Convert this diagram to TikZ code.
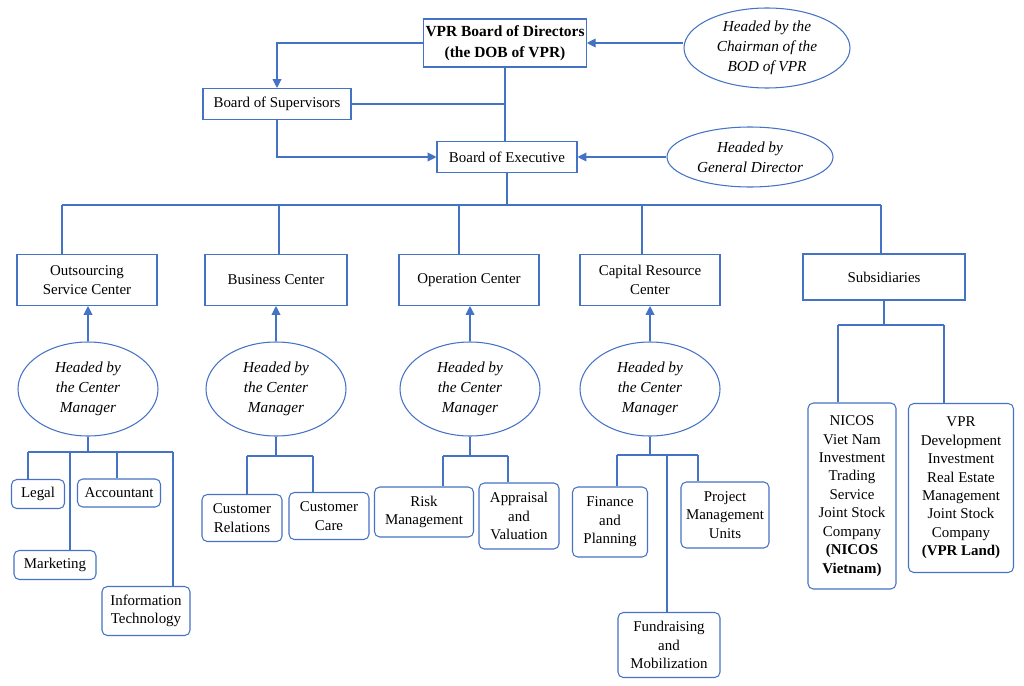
\documentclass[tikz,border=0pt]{standalone}
\usepackage{fontspec}
\setmainfont{Liberation Serif}
\usetikzlibrary{shapes.geometric,arrows.meta}
\definecolor{ln}{RGB}{68,114,196}
\begin{document}
\begin{tikzpicture}[x=0.02cm,y=-0.02cm,
  every node/.style={font=\fontsize{8.5}{10.5}\selectfont,align=center,inner sep=1pt},
  sz/.style 2 args={minimum width=#1*0.02cm,minimum height=#2*0.02cm},
  box/.style={draw=ln,semithick},
  rbox/.style={draw=ln,semithick,rounded corners=3pt},
  ell/.style={draw=ln,semithick,ellipse,inner sep=0pt,font=\fontsize{8.7}{11.3}\selectfont\itshape},
  ln/.style={draw=ln,semithick},
  arr/.style={ln,-{Triangle[length=5pt,width=5pt]}}]
\useasboundingbox (0,0) rectangle (1024,686);
% top
\node[box,sz={156}{48},font=\fontsize{8.8}{12}\selectfont\bfseries] (bod) at (505,43) {VPR Board of Directors\\(the DOB of VPR)};
\node[ell,sz={166}{80}] (e1) at (767,48) {Headed by the\\Chairman of the\\BOD of VPR};
\node[box,sz={148}{31}] (sup) at (277,104) {Board of Supervisors};
\node[box,sz={140}{31}] (exe) at (507,157) {Board of Executive};
\node[ell,sz={166}{60}] (e2) at (750,157) {Headed by\\General Director};
\draw[arr] (e1.west |- bod.east) -- (bod.east);
\draw[arr] (e2.west) -- (exe.east);
\draw[arr] (bod.west) -| (sup.north);
\draw[ln] (bod.south) -- (exe.north -| bod.south);
\draw[ln] (sup.east) -- (bod.south |- sup.east);
\draw[arr] (sup.south) |- (exe.west);
% centers
\node[box,sz={140}{51}] (c1) at (87,280) {Outsourcing\\Service Center};
\node[box,sz={142}{51}] (c2) at (276,280) {Business Center};
\node[box,sz={140}{51}] (c3) at (469,280) {Operation Center};
\node[box,sz={140}{51}] (c4) at (650,280) {Capital Resource\\Center};
\node[box,sz={162}{46}] (c5) at (884,277) {Subsidiaries};
\coordinate (bus) at (507,205);
\draw[ln] (exe.south) -- (bus);
\draw[ln] (62,205) -- (881,205);
\draw[ln] (62,205) -- (c1.north -| 62,0);
\draw[ln] (279,205) -- (c2.north -| 279,0);
\draw[ln] (459,205) -- (c3.north -| 459,0);
\draw[ln] (642,205) -- (c4.north -| 642,0);
\draw[ln] (881,205) -- (c5.north -| 881,0);
% ellipses
\foreach \i/\x in {1/88,2/276,3/470,4/650}{
  \node[ell,sz={140}{94}] (h\i) at (\x,389) {Headed by\\the Center\\Manager};
  \draw[arr] (h\i.north) -- (c\i.south -| h\i.north);
}
% outsourcing units
\node[rbox,sz={53}{29}] (legal) at (38,494) {Legal};
\node[rbox,sz={82}{29}] (mkt) at (55,565) {Marketing};
\node[rbox,sz={83}{28}] (acc) at (119,493) {Accountant};
\node[rbox,sz={88}{49}] (it) at (146,611) {Information\\Technology};
\draw[ln] (h1.south) -- (88,452);
\draw[ln] (28,452) -- (173,452);
\draw[ln] (28,452) -- (legal.north -| 28,0);
\draw[ln] (70,452) -- (mkt.north -| 70,0);
\draw[ln] (117,452) -- (acc.north -| 117,0);
\draw[ln] (173,452) -- (it.north -| 173,0);
% business units
\node[rbox,sz={80}{47}] (cr) at (242,518) {Customer\\Relations};
\node[rbox,sz={80}{47}] (cc) at (329,516) {Customer\\Care};
\draw[ln] (h2.south) -- (276,456);
\draw[ln] (247,456) -- (313,456);
\draw[ln] (247,456) -- (cr.north -| 247,0);
\draw[ln] (313,456) -- (cc.north -| 313,0);
% operation units
\node[rbox,sz={99}{50}] (risk) at (424,512) {Risk\\Management};
\node[rbox,sz={80}{66}] (app) at (519,516) {Appraisal\\and\\Valuation};
\draw[ln] (h3.south) -- (470,456);
\draw[ln] (443,456) -- (508,456);
\draw[ln] (443,456) -- (risk.north -| 443,0);
\draw[ln] (508,456) -- (app.north -| 508,0);
% capital units
\node[rbox,sz={75}{70}] (fin) at (610,522) {Finance\\and\\Planning};
\node[rbox,sz={88}{66}] (pmu) at (725,515) {Project\\Management\\Units};
\node[rbox,sz={102}{65}] (fund) at (669,645) {Fundraising\\and\\Mobilization};
\draw[ln] (h4.south) -- (650,455);
\draw[ln] (617,455) -- (698,455);
\draw[ln] (617,455) -- (fin.north -| 617,0);
\draw[ln] (698,455) -- (pmu.north -| 698,0);
\draw[ln] (667,455) -- (fund.north -| 667,0);
% subsidiaries
\node[rbox,sz={88}{186}] (nic) at (852,496) {NICOS\\Viet Nam\\Investment\\Trading\\Service\\Joint Stock\\Company\\\textbf{(NICOS}\\\textbf{Vietnam)}};
\node[rbox,sz={105}{169}] (vpr) at (961,488) {VPR\\Development\\Investment\\Real Estate\\Management\\Joint Stock\\Company\\\textbf{(VPR Land)}};
\draw[ln] (c5.south -| 884,0) -- (884,325);
\draw[ln] (838,325) -- (944,325);
\draw[ln] (838,325) -- (nic.north -| 838,0);
\draw[ln] (944,325) -- (vpr.north -| 944,0);
\end{tikzpicture}
\end{document}
